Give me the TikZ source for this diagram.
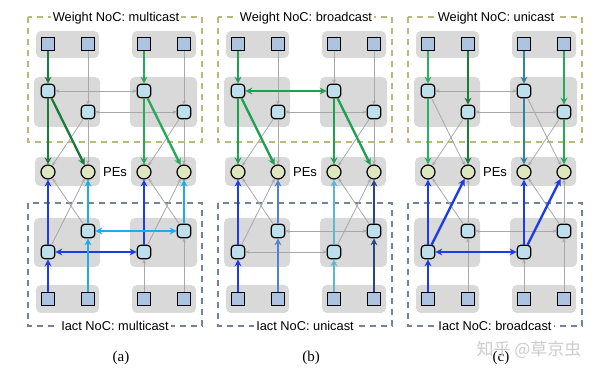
\documentclass[tikz,border=0pt]{standalone}
\usepackage{fontspec}
\setmainfont{Liberation Serif}
\setsansfont{Liberation Sans}
\newfontfamily\cjkfont{Noto Sans CJK SC}
\usetikzlibrary{arrows.meta}
\definecolor{boxgray}{RGB}{217,217,217}
\definecolor{sqfill}{RGB}{172,196,226}
\definecolor{rtfill}{RGB}{190,224,236}
\definecolor{pefill}{RGB}{222,230,192}
\definecolor{lgray}{RGB}{168,168,168}
\definecolor{wdash}{RGB}{185,185,125}
\definecolor{idash}{RGB}{112,132,160}
\definecolor{dkgreen}{RGB}{28,122,58}
\definecolor{mgreen}{RGB}{40,168,88}
\definecolor{bgreen}{RGB}{30,160,80}
\definecolor{cgreen}{RGB}{40,175,95}
\definecolor{tealb}{RGB}{52,130,160}
\definecolor{bblue}{RGB}{30,60,228}
\definecolor{cyanb}{RGB}{30,172,226}
\definecolor{mblue}{RGB}{80,130,205}
\definecolor{lteal}{RGB}{92,182,212}
\definecolor{navyb}{RGB}{42,70,130}
\definecolor{wmark}{RGB}{205,205,205}
\tikzset{
  sq/.style={draw=black, line width=1.2pt, fill=sqfill, minimum size=13pt, inner sep=0pt},
  rt/.style={draw=black, line width=1.2pt, fill=rtfill, minimum size=13.5pt, inner sep=0pt, rounded corners=3.5pt},
  pe/.style={circle, draw=black, line width=1.2pt, fill=pefill, minimum size=14pt, inner sep=0pt},
  cluster/.style={fill=boxgray, rounded corners=5pt},
  wbox/.style={draw=wdash, line width=1.2pt, dash pattern=on 6pt off 5pt},
  ibox/.style={draw=idash, line width=1.2pt, dash pattern=on 6pt off 5pt},
  ttl/.style={fill=white, font=\sffamily\fontsize{12.8}{14}\selectfont, inner sep=2pt},
  pelab/.style={font=\sffamily\fontsize{13}{15}\selectfont, inner sep=0pt},
  sublab/.style={font=\fontsize{15}{17}\selectfont, inner sep=0pt},
  garr/.style={draw=lgray, line width=0.8pt, -{Stealth[length=4pt,width=3.6pt]}},
  gdbl/.style={draw=lgray, line width=0.8pt, {Stealth[length=4pt,width=3.6pt]}-{Stealth[length=4pt,width=3.6pt]}},
  carr/.style={line width=2.3pt, -{Stealth[length=7pt,width=7pt]}},
  cdbl/.style={line width=2.3pt, {Stealth[length=7pt,width=7pt]}-{Stealth[length=7pt,width=7pt]}},
}
\newcommand\mkpanel[5]{%
\begin{scope}[xshift=#2pt]
  \fill[cluster] (36,31) rectangle (99,58);
  \fill[cluster] (132,31) rectangle (196,58);
  \fill[cluster] (34,77) rectangle (100,127);
  \fill[cluster] (130,77) rectangle (197,127);
  \fill[cluster] (35,157) rectangle (100,186);
  \fill[cluster] (131,157) rectangle (196,186);
  \fill[cluster] (34,218) rectangle (100,267);
  \fill[cluster] (130,218) rectangle (197,267);
  \fill[cluster] (36,285) rectangle (99,313);
  \fill[cluster] (132,285) rectangle (196,313);
  \draw[wbox] (28,17) rectangle (202,142);
  \draw[ibox] (28,203) rectangle (202,326);
  \node[ttl] (#1-wt) at (116,18) {#3};
  \node[ttl] (#1-it) at (115,326) {#4};
  \node[pelab] (#1-pel) at (115,172) {PEs};
  \node[sublab] (#1-lab) at (121,358) {#5};
  \node[sq] (#1-ws1) at (48,44) {};
  \node[sq] (#1-ws2) at (88,44) {};
  \node[sq] (#1-ws3) at (144,44) {};
  \node[sq] (#1-ws4) at (184,44) {};
  \node[rt] (#1-w1) at (48,91) {};
  \node[rt] (#1-w2) at (88,112) {};
  \node[rt] (#1-w3) at (144,91) {};
  \node[rt] (#1-w4) at (184,112) {};
  \node[pe] (#1-pe1) at (48,172) {};
  \node[pe] (#1-pe2) at (88,172) {};
  \node[pe] (#1-pe3) at (144,172) {};
  \node[pe] (#1-pe4) at (184,172) {};
  \node[rt] (#1-i1) at (48,252) {};
  \node[rt] (#1-i2) at (88,231) {};
  \node[rt] (#1-i3) at (144,252) {};
  \node[rt] (#1-i4) at (184,231) {};
  \node[sq] (#1-is1) at (48,299) {};
  \node[sq] (#1-is2) at (88,299) {};
  \node[sq] (#1-is3) at (144,299) {};
  \node[sq] (#1-is4) at (184,299) {};
\end{scope}}
\begin{document}
\begin{tikzpicture}[x=1pt,y=-1pt]
\useasboundingbox[fill=white] (0,0) rectangle (600,379);
\mkpanel{a}{0}{Weight NoC: multicast}{Iact NoC: multicast}{(a)}
\mkpanel{b}{190}{Weight NoC: broadcast}{Iact NoC: unicast}{(b)}
\mkpanel{c}{380}{Weight NoC: unicast}{Iact NoC: broadcast}{(c)}
% ---------- panel (a) ----------
\foreach \u/\v in {ws2/w2,ws4/w4,w2/pe1,w2/pe2,w4/pe3,w4/pe4,is3/i3,is4/i4,i1/pe2,i2/pe1,i3/pe4,i4/pe3}
  \draw[garr] (a-\u) -- (a-\v);
\draw[gdbl] (a-w1) -- (a-w3);
\draw[gdbl] (a-w2) -- (a-w4);
\foreach \u/\v in {ws1/w1,w1/pe1,w1/pe2} \draw[carr,dkgreen] (a-\u) -- (a-\v);
\foreach \u/\v in {ws3/w3,w3/pe3,w3/pe4} \draw[carr,mgreen] (a-\u) -- (a-\v);
\foreach \u/\v in {is1/i1,i1/pe1,i3/pe3} \draw[carr,bblue] (a-\u) -- (a-\v);
\draw[cdbl,bblue] (a-i1) -- (a-i3);
\foreach \u/\v in {is2/i2,i2/pe2,i4/pe4} \draw[carr,cyanb] (a-\u) -- (a-\v);
\draw[cdbl,cyanb] (a-i2) -- (a-i4);
% ---------- panel (b) ----------
\foreach \u/\v in {ws2/w2,ws3/w3,ws4/w4,w2/pe1,w2/pe2,w4/pe3,w4/pe4,i1/pe2,i2/pe1,i3/pe4,i4/pe3}
  \draw[garr] (b-\u) -- (b-\v);
\draw[gdbl] (b-w2) -- (b-w4);
\draw[gdbl] (b-i1) -- (b-i3);
\draw[gdbl] (b-i2) -- (b-i4);
\foreach \u/\v in {ws1/w1,w1/pe1,w1/pe2,w3/pe3,w3/pe4} \draw[carr,bgreen] (b-\u) -- (b-\v);
\draw[cdbl,bgreen] (b-w1) -- (b-w3);
\draw[carr,bblue] (b-is1) -- (b-i1);
\draw[carr,bblue] (b-i1) -- (b-pe1);
\draw[carr,mblue] (b-is2) -- (b-i2);
\draw[carr,mblue] (b-i2) -- (b-pe2);
\draw[carr,lteal] (b-is3) -- (b-i3);
\draw[carr,lteal] (b-i3) -- (b-pe3);
\draw[carr,navyb] (b-is4) -- (b-i4);
\draw[carr,navyb] (b-i4) -- (b-pe4);
% ---------- panel (c) ----------
\foreach \u/\v in {w1/pe2,w2/pe1,w3/pe4,w4/pe3,is2/i2,is3/i3,is4/i4,i2/pe1,i2/pe2,i4/pe3,i4/pe4}
  \draw[garr] (c-\u) -- (c-\v);
\draw[gdbl] (c-w1) -- (c-w3);
\draw[gdbl] (c-w2) -- (c-w4);
\draw[gdbl] (c-i2) -- (c-i4);
\draw[carr,cgreen] (c-ws1) -- (c-w1);
\draw[carr,cgreen] (c-w1) -- (c-pe1);
\draw[carr,dkgreen] (c-ws2) -- (c-w2);
\draw[carr,dkgreen] (c-w2) -- (c-pe2);
\draw[carr,tealb] (c-ws3) -- (c-w3);
\draw[carr,tealb] (c-w3) -- (c-pe3);
\draw[carr,mgreen] (c-ws4) -- (c-w4);
\draw[carr,mgreen] (c-w4) -- (c-pe4);
\foreach \u/\v in {is1/i1,i1/pe1,i1/pe2,i3/pe3,i3/pe4} \draw[carr,bblue] (c-\u) -- (c-\v);
\draw[cdbl,bblue] (c-i1) -- (c-i3);
% watermark
\node[font=\cjkfont\fontsize{17}{19}\selectfont, text=wmark, inner sep=0pt] (wm) at (529,350) {知乎 @草京虫};
\end{tikzpicture}
\end{document}
